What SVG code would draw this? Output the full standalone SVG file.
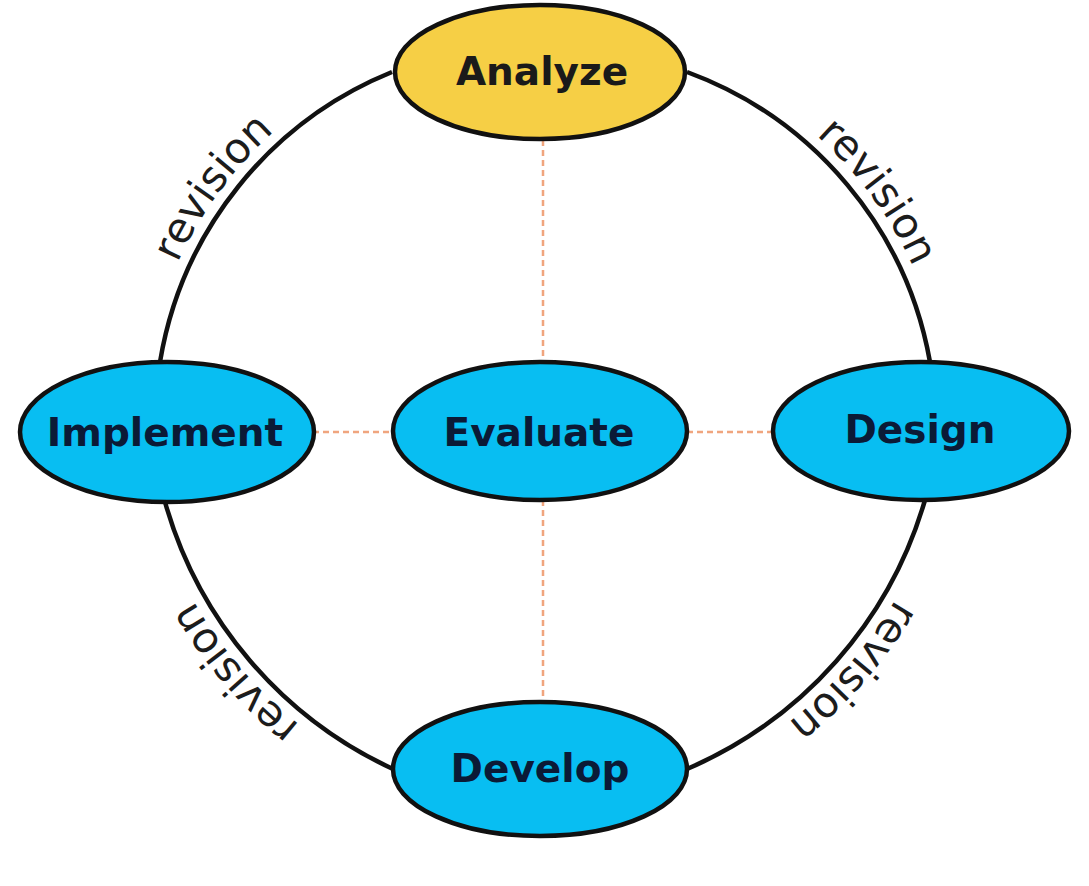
<svg xmlns="http://www.w3.org/2000/svg" xmlns:xlink="http://www.w3.org/1999/xlink" width="1089" height="886" viewBox="0 0 1089 886">
<style>
.node{stroke:#111;stroke-width:4.5}
.blue{fill:#08bef2}
.yellow{fill:#f6cf45}
.lbl{font-family:"DejaVu Sans","Liberation Sans",sans-serif;font-weight:bold;font-size:39px;text-anchor:middle;dominant-baseline:central}
.lblb{fill:#0b1a36}
.lbly{fill:#1a1a1a}
.rev{font-family:"DejaVu Sans","Liberation Sans",sans-serif;font-size:42px;fill:#1c1c1c;text-anchor:middle}
.arc{fill:none;stroke:#111;stroke-width:4.5}
.dash{stroke:#f0a57e;stroke-width:2.5;stroke-dasharray:6 4;fill:none}
</style>
<defs>
<path id="tTL" d="M 148.3 360.1 A 392 392 0 0 1 387.5 60.9"/>
<path id="tTR" d="M 691.2 60.6 A 392 392 0 0 1 941.9 359.9"/>
<path id="tBR" d="M 936.5 503.4 A 434 434 0 0 1 691.7 780"/>
<path id="tBL" d="M 388.1 779.6 A 432 432 0 0 1 153.7 505.2"/>
</defs>
<rect width="1089" height="886" fill="#fff"/>
<g id="connectors">
<path class="arc" d="M 160 362 A 380 380 0 0 1 392 72"/>
<path class="arc" d="M 687 72 A 380 380 0 0 1 930 362"/>
<path class="arc" d="M 925 500 A 420 420 0 0 1 687 769"/>
<path class="arc" d="M 393 769 A 420 420 0 0 1 165 502"/>
<line class="dash" x1="543" y1="140" x2="543" y2="362"/>
<line class="dash" x1="543" y1="500" x2="543" y2="702"/>
<line class="dash" x1="313" y1="432" x2="393" y2="432"/>
<line class="dash" x1="687" y1="432" x2="773" y2="432"/>
<text class="rev"><textPath xlink:href="#tTL" href="#tTL" startOffset="46%">revision</textPath></text>
<text class="rev"><textPath xlink:href="#tTR" href="#tTR" startOffset="56%">revision</textPath></text>
<text class="rev"><textPath xlink:href="#tBR" href="#tBR" startOffset="49%">revision</textPath></text>
<text class="rev"><textPath xlink:href="#tBL" href="#tBL" startOffset="50%">revision</textPath></text>
</g>
<g id="analyze">
<ellipse class="node yellow" cx="540" cy="72" rx="145" ry="67"/>
<text class="lbl lbly" x="542" y="71">Analyze</text>
</g>
<g id="implement">
<ellipse class="node blue" cx="167" cy="432" rx="147" ry="70"/>
<text class="lbl lblb" x="165" y="432">Implement</text>
</g>
<g id="evaluate">
<ellipse class="node blue" cx="540" cy="431" rx="147" ry="69"/>
<text class="lbl lblb" x="539" y="432">Evaluate</text>
</g>
<g id="design">
<ellipse class="node blue" cx="921" cy="431" rx="148" ry="69"/>
<text class="lbl lblb" x="920" y="429">Design</text>
</g>
<g id="develop">
<ellipse class="node blue" cx="540" cy="769" rx="147" ry="67"/>
<text class="lbl lblb" x="540" y="768">Develop</text>
</g>
</svg>
